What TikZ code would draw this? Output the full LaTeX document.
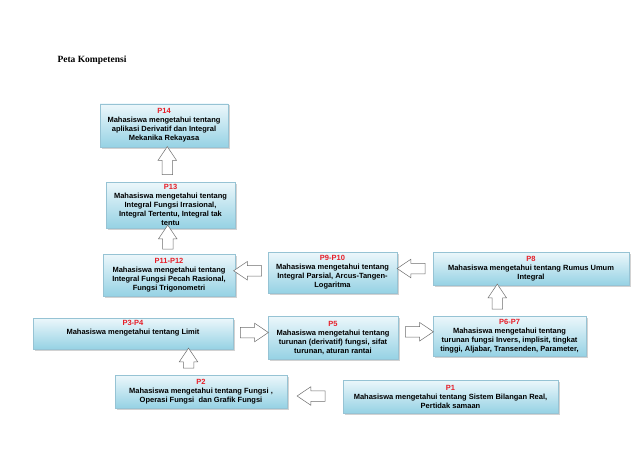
\documentclass[tikz,border=0pt]{standalone}
\usepackage{fontspec}
\setmainfont{Liberation Sans}
\newfontfamily\titlefont{Liberation Serif}
\usetikzlibrary{shapes.arrows,shadows,calc}
\definecolor{boxtop}{RGB}{236,247,251}
\definecolor{boxbot}{RGB}{150,210,228}
\definecolor{boxline}{RGB}{150,195,212}
\definecolor{ptitle}{RGB}{230,30,40}
\definecolor{arrline}{RGB}{110,110,110}
\tikzset{
  kbox/.style={draw=boxline, line width=0.4pt, top color=boxtop, bottom color=boxbot,
    drop shadow={shadow xshift=1.5pt, shadow yshift=-1.5pt, opacity=0.35},
    align=center, inner sep=1pt, font=\fontsize{7.5}{9}\selectfont\bfseries},
  barrow/.style={single arrow, draw=arrline, fill=white, line width=0.5pt,
    minimum height=28pt, inner sep=5pt, single arrow head extend=4pt,
    single arrow tip angle=68},
  up/.style={barrow, shape border rotate=90},
  lt/.style={barrow, shape border rotate=180},
  rt/.style={barrow, shape border rotate=0},
}
\newcommand{\pt}[1]{{\color{ptitle}#1}}
\begin{document}
\begin{tikzpicture}[x=1pt,y=-1pt]
\useasboundingbox[fill=white] (0,0) rectangle (638,452);
\node[anchor=base west, font=\titlefont\fontsize{9.5}{11}\selectfont\bfseries] (title) at (54,63) {Peta Kompetensi};

\node[kbox, minimum width=128pt, minimum height=43pt] (p14) at (164,125.5)
  {\pt{P14}\\Mahasiswa mengetahui tentang\\aplikasi Derivatif dan Integral\\Mekanika Rekayasa};
\node[kbox, minimum width=129pt, minimum height=46pt] (p13) at (170.5,205)
  {\pt{P13}\\Mahasiswa mengetahui tentang\\Integral Fungsi Irrasional,\\Integral Tertentu, Integral tak\\tentu};
\node[kbox, minimum width=132pt, minimum height=42pt] (p11) at (169,275)
  {\pt{P11-P12}\\Mahasiswa mengetahui tentang\\Integral Fungsi Pecah Rasional,\\Fungsi Trigonometri};
\node[kbox, minimum width=129pt, minimum height=41pt] (p9) at (332.5,272.5)
  {\pt{P9-P10}\\Mahasiswa mengetahui tentang\\Integral Parsial, Arcus-Tangen-\\Logaritma};
\node[kbox, minimum width=196pt, minimum height=33pt] (p8) at (531,268.5)
  {\pt{P8}\\Mahasiswa mengetahui tentang Rumus Umum\\Integral};
\node[kbox, minimum width=200pt, minimum height=31pt] (p3) at (133,333.5)
  {\pt{P3-P4}\\Mahasiswa mengetahui tentang Limit\\[4pt]};
\node[kbox, minimum width=130pt, minimum height=43pt] (p5) at (333,337.5)
  {\pt{P5}\\Mahasiswa mengetahui tentang\\turunan (derivatif) fungsi, sifat\\turunan, aturan rantai};
\node[kbox, minimum width=153pt, minimum height=40pt] (p6) at (509.5,336)
  {\pt{P6-P7}\\Mahasiswa mengetahui tentang\\turunan fungsi  Invers, implisit, tingkat\\tinggi, Aljabar, Transenden, Parameter,};
\node[kbox, minimum width=172pt, minimum height=33pt] (p2) at (201,391.5)
  {\pt{P2}\\Mahasiswa mengetahui tentang Fungsi ,\\Operasi Fungsi \ dan Grafik Fungsi};
\node[kbox, minimum width=215pt, minimum height=33pt] (p1) at (450.5,396.5)
  {\pt{P1}\\Mahasiswa mengetahui tentang Sistem Bilangan Real,\\Pertidak samaan};

\node[up] (a1) at ($(p13.north)!0.5!(p14.south)$) {};
\node[up, minimum height=24pt] (a2) at ($(p11.north)!0.5!(p13.south)+(-2,0)$) {};
\node[lt] (a3) at ($(p9.west)!0.5!(p11.east)+(0,-3)$) {};
\node[lt] (a4) at ($(p8.west)!0.5!(p9.east)+(0,-2)$) {};
\node[up, minimum height=25pt] (a5) at ($(p6.north)!0.5!(p8.south)+(-23,0)$) {};
\node[rt] (a6) at ($(p3.east)!0.5!(p5.west)+(0,-3)$) {};
\node[rt] (a7) at ($(p5.east)!0.5!(p6.west)+(0,-5)$) {};
\node[up, minimum height=20pt] (a8) at ($(p2.north)!0.5!(p3.south)+(21.5,0)$) {};
\node[lt] (a9) at ($(p1.west)!0.5!(p2.east)+(0,2)$) {};
\end{tikzpicture}
\end{document}
